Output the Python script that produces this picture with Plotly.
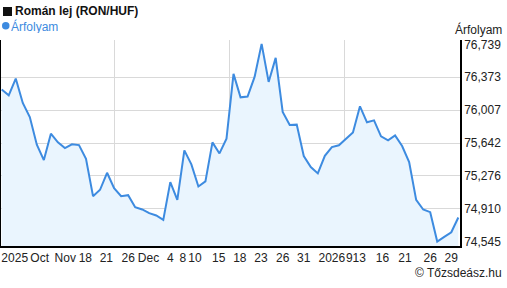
import plotly.graph_objects as go

# ---- data ----
rates = [76.236, 76.172, 76.358, 76.087, 75.931, 75.623, 75.452, 75.746, 75.649, 75.586,
         75.627, 75.619, 75.467, 75.051, 75.122, 75.311, 75.140, 75.051, 75.062, 74.929,
         74.903, 74.862, 74.836, 74.788, 75.207, 75.010, 75.560, 75.404, 75.159, 75.215,
         75.649, 75.526, 75.690, 76.410, 76.150, 76.158, 76.377, 76.744, 76.321, 76.588,
         75.987, 75.842, 75.846, 75.497, 75.374, 75.304, 75.500, 75.597, 75.616, 75.686,
         75.760, 76.050, 75.872, 75.894, 75.716, 75.671, 75.727, 75.608, 75.430, 75.010,
         74.903, 74.873, 74.546, 74.598, 74.650, 74.814]
idx = list(range(len(rates)))

x_tick_pos = [1.85, 5.4, 9.05, 11.9, 14.9, 18.0, 20.9, 24.0, 25.8, 27.5, 30.9,
              33.9, 36.9, 40.0, 43.0, 47.0, 49.5, 50.9, 54.2, 57.4, 61.0, 64.0]
x_tick_text = ["2025", "Oct", "Nov", "18", "21", "26", "Dec", "4", "8", "10", "15",
               "18", "23", "26", "31", "2026", "9", "13", "16", "21", "26", "29"]
x_grid_pos = [16.1, 32.4, 48.8]

y_tick_vals = [74.545, 74.910, 75.276, 75.642, 76.007, 76.373, 76.739]
y_tick_text = ["74,545", "74,910", "75,276", "75,642", "76,007", "76,373", "76,739"]
y_grid_vals = [74.910, 75.276, 75.642, 76.007, 76.373]

LINE = "#3d8be0"
FILL = "#eaf5fe"
FONT = "Liberation Sans, Arial, sans-serif"

fig = go.Figure()
fig.add_trace(go.Scatter(
    x=idx, y=rates, mode="lines",
    line=dict(color=LINE, width=2),
    fill="tozeroy", fillcolor=FILL,
    hoverinfo="skip", showlegend=False,
))

W, H = 507, 288
L, R, T, B = 1, 460, 40, 246

def px(x):
    return (x - L) / (R - L)

def py(y):
    return (B - y) / (B - T)

fig.update_layout(
    width=W, height=H,
    margin=dict(l=L, r=W - R, t=T, b=H - B, pad=0),
    paper_bgcolor="white", plot_bgcolor="white",
    font=dict(family=FONT, size=12, color="#222"),
    xaxis=dict(
        range=[-0.1, 65.24], tickmode="array", tickvals=x_tick_pos, ticktext=x_tick_text,
        tickangle=0, automargin=False,
        showgrid=False, zeroline=False, showline=True, linecolor="black", linewidth=1.5,
        ticks="", tickfont=dict(size=12, color="#222"),
        minor=dict(tickmode="array", tickvals=x_grid_pos, showgrid=True,
                   gridcolor="#d9d9d9", gridwidth=1, ticks=""),
    ),
    yaxis=dict(
        range=[74.497, 76.787], side="right", tickmode="array",
        tickvals=y_tick_vals, ticktext=y_tick_text, automargin=False,
        showgrid=False, zeroline=False, showline=True, mirror=True,
        linecolor="black", linewidth=1.5, ticks="",
        tickfont=dict(size=12, color="#222"),
        minor=dict(tickmode="array", tickvals=y_grid_vals, showgrid=True,
                   gridcolor="#d9d9d9", gridwidth=1, ticks=""),
    ),
    shapes=[
        dict(type="rect", xref="paper", yref="paper",
             x0=px(3), x1=px(12), y0=py(16), y1=py(7),
             fillcolor="#111", line=dict(width=0)),
        dict(type="circle", xref="paper", yref="paper",
             x0=px(2), x1=px(9.5), y0=py(29.5), y1=py(22),
             fillcolor=LINE, line=dict(width=0)),
    ],
    annotations=[
        dict(text="<b>Román lej (RON/HUF)</b>", xref="paper", yref="paper",
             x=px(13.5), y=py(11.5), xanchor="left", yanchor="middle", showarrow=False,
             height=14, borderpad=0,
             font=dict(size=12, color="#111", family=FONT)),
        dict(text="Árfolyam", xref="paper", yref="paper",
             x=px(10), y=py(25.8), xanchor="left", yanchor="middle", showarrow=False,
             height=14, borderpad=0,
             font=dict(size=12, color=LINE, family=FONT)),
        dict(text="Árfolyam", xref="paper", yref="paper",
             x=px(504), y=py(29), xanchor="right", yanchor="middle", showarrow=False,
             font=dict(size=12, color="#222", family=FONT)),
        dict(text="© Tőzsdeász.hu", xref="paper", yref="paper",
             x=px(504), y=py(273), xanchor="right", yanchor="middle", showarrow=False,
             font=dict(size=12, color="#222", family=FONT)),
    ],
)

fig.write_html("out.html")
